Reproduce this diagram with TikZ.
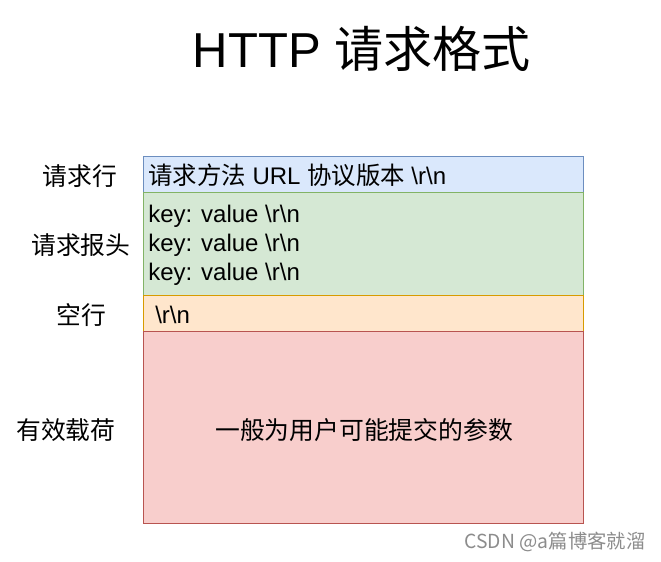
\documentclass[tikz,border=0pt]{standalone}
\usepackage{fontspec}
\setmainfont{Liberation Sans}
\newfontfamily\cjk{Noto Sans CJK SC}
\usetikzlibrary{positioning}
\definecolor{fillblue}{HTML}{DAE8FC}
\definecolor{lineblue}{HTML}{6C8EBF}
\definecolor{fillgreen}{HTML}{D5E8D4}
\definecolor{linegreen}{HTML}{82B366}
\definecolor{fillorange}{HTML}{FFE6CC}
\definecolor{lineorange}{HTML}{D79B00}
\definecolor{fillred}{HTML}{F8CECC}
\definecolor{linered}{HTML}{B85450}
\tikzset{
  part/.style={draw, line width=1pt, anchor=north west, minimum width=330pt, inner sep=0pt},
  label/.style={font=\cjk\fontsize{18.6pt}{22pt}\selectfont},
  body/.style={font=\fontsize{18pt}{21.75pt}\selectfont, anchor=west, inner sep=0pt, align=left}
}
\newcommand{\crlf}{\textbackslash r\textbackslash n}

\begin{document}
\begin{tikzpicture}[x=0.75pt,y=-0.75pt]
		%%%%% START %%%%%
		\useasboundingbox[fill=white] (0,0) rectangle (661,561);
		
		\node[font=\fontsize{36.8pt}{42pt}\selectfont] (title) at (362,49) {HTTP {\cjk 请求格式}};
		
		\node[part, fill=fillblue, draw=lineblue, minimum height=27pt] (line) at (143,156) {};
		\node[part, fill=fillgreen, draw=linegreen, minimum height=77.25pt] (header) at (143,192) {};
		\node[part, fill=fillorange, draw=lineorange, minimum height=27pt] (blank) at (143,295) {};
		\node[part, fill=fillred, draw=linered, minimum height=144pt] (payload) at (143,331) {};
		
		\node[body] (linetext) at (148,175) {{\cjk\fontsize{18.3pt}{22pt}\selectfont 请求方法} URL {\cjk\fontsize{18.3pt}{22pt}\selectfont 协议版本} \crlf};
		\node[body] (headertext) at (148,245) {key: value \crlf\\key: value \crlf\\key: value \crlf};
		\node[body] (blanktext) at (155,315) {\crlf};
		\node[label] (payloadtext) at (364,430) {一般为用户可能提交的参数};
		
		\node[label] (linelabel) at (80,176) {请求行};
		\node[label] (headerlabel) at (81,245) {请求报头};
		\node[label] (blanklabel) at (81,315) {空行};
		\node[label] (payloadlabel) at (66,430) {有效载荷};
		
		\node[font=\cjk\fontsize{14.5pt}{17pt}\selectfont, text=black!45] (mark) at (555,542) {CSDN @a篇博客就溜};
		
		%%%%% END %%%%%
\end{tikzpicture}
\end{document}
